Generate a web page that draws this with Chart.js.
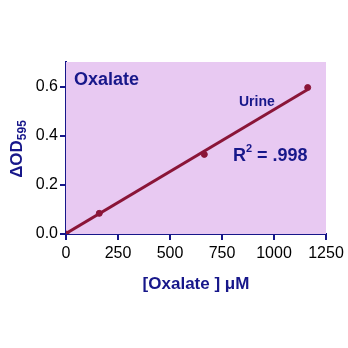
<!DOCTYPE html>
<html>
<head>
<meta charset="utf-8">
<script src="https://cdn.jsdelivr.net/npm/chart.js@4"></script>
<style>
  html, body { margin: 0; padding: 0; background: #fff; }
  #wrap { width: 348px; height: 348px; }
</style>
</head>
<body>
<div id="wrap"><canvas id="chart" width="348" height="348"></canvas></div>
<script>
const oxalateUM = [0, 160, 665, 1162];
const deltaOD   = [0, 0.084, 0.324, 0.596];
const fitX      = [0, 1162];
const fitY      = [0.002, 0.588];
const xTicks    = [0, 250, 500, 750, 1000, 1250];
const yTicks    = [0.0, 0.2, 0.4, 0.6];

const NAVY   = '#17178a';
const MAROON = '#8a1538';
const FILL   = '#e8c9f2';
const FONT   = '"Liberation Sans", Arial, sans-serif';

const decor = {
  id: 'decor',
  beforeDatasetsDraw(chart) {
    const { ctx, chartArea: a } = chart;
    ctx.save();
    ctx.fillStyle = FILL;
    ctx.fillRect(a.left, a.top, a.right - a.left, a.bottom - a.top);
    ctx.restore();
  },
  afterDraw(chart) {
    const { ctx, chartArea: a } = chart;
    ctx.save();
    ctx.fillStyle = NAVY;
    ctx.textBaseline = 'alphabetic';

    ctx.font = 'bold 18px ' + FONT;
    ctx.textAlign = 'left';
    ctx.fillText('Oxalate', a.left + 8, a.top + 23);

    ctx.font = 'bold 14px ' + FONT;
    ctx.fillText('Urine', 239, 106);

    ctx.font = 'bold 18px ' + FONT;
    ctx.fillText('R', 233, 161);
    ctx.font = 'bold 11px ' + FONT;
    ctx.fillText('2', 246, 152);
    ctx.font = 'bold 18px ' + FONT;
    ctx.fillText(' = .998', 252, 161);

    // x title
    ctx.font = 'bold 17px ' + FONT;
    ctx.textAlign = 'center';
    ctx.fillText('[Oxalate ] \u03bcM', (a.left + a.right) / 2, 289);

    // y title, rotated
    ctx.translate(22, (a.top + a.bottom) / 2 + 1);
    ctx.rotate(-Math.PI / 2);
    ctx.textAlign = 'left';
    ctx.font = 'bold 17px ' + FONT;
    const main = '\u0394OD';
    const w1 = ctx.measureText(main).width;
    ctx.font = 'bold 12px ' + FONT;
    const w2 = ctx.measureText('595').width;
    const start = -(w1 + w2) / 2;
    ctx.font = 'bold 17px ' + FONT;
    ctx.fillText(main, start, 0);
    ctx.font = 'bold 12px ' + FONT;
    ctx.fillText('595', start + w1, 4);
    ctx.restore();
  }
};

new Chart(document.getElementById('chart'), {
  type: 'scatter',
  data: {
    datasets: [
      {
        data: oxalateUM.map((x, i) => ({ x, y: deltaOD[i] })),
        backgroundColor: MAROON,
        borderColor: MAROON,
        pointRadius: 3,
        order: 1,
      },
      {
        type: 'line',
        data: fitX.map((x, i) => ({ x, y: fitY[i] })),
        borderColor: MAROON,
        borderWidth: 3,
        pointRadius: 0,
        fill: false,
        order: 2,
      },
    ],
  },
  options: {
    responsive: false,
    animation: false,
    layout: { padding: { top: 62, right: 22, left: 0, bottom: 0 } },
    plugins: { legend: { display: false }, tooltip: { enabled: false } },
    scales: {
      x: {
        type: 'linear',
        min: 0,
        max: 1250,
        afterFit: s => { s.height = 114; },
        afterBuildTicks: s => { s.ticks = xTicks.map(v => ({ value: v })); },
        border: { color: NAVY, width: 2 },
        grid: { drawOnChartArea: false, drawTicks: true, tickLength: 6, color: NAVY, lineWidth: 2 },
        ticks: { color: '#000', padding: 4, maxRotation: 0, font: { family: FONT, size: 16 }, callback: v => String(v) },
      },
      y: {
        type: 'linear',
        min: 0,
        max: 0.7,
        afterFit: s => { s.width = 66; },
        afterBuildTicks: s => { s.ticks = yTicks.map(v => ({ value: v })); },
        border: { color: NAVY, width: 2 },
        grid: { drawOnChartArea: false, drawTicks: true, tickLength: 6, color: NAVY, lineWidth: 2 },
        ticks: { color: '#000', padding: 2, font: { family: FONT, size: 16 }, callback: v => v.toFixed(1) },
      },
    },
  },
  plugins: [decor],
});
</script>
</body>
</html>
